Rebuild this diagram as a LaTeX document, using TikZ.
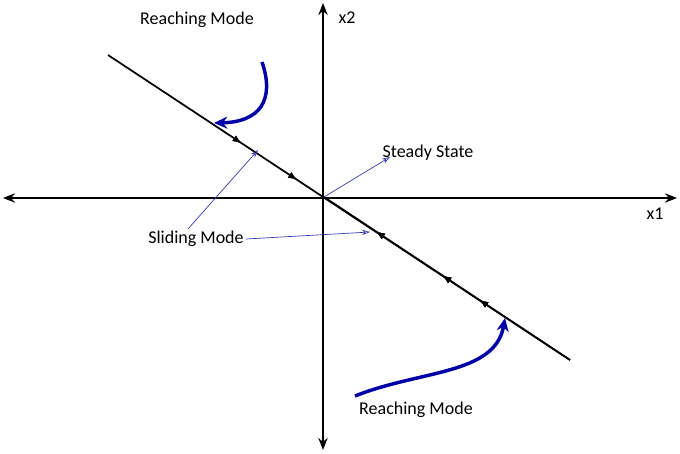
\documentclass[tikz,border=0pt]{standalone}
\usepackage{fontspec}
\setmainfont{Carlito}
\usetikzlibrary{arrows.meta,decorations.markings}
\begin{document}
\begin{tikzpicture}[x={(0.75pt,0)},y={(0,-0.75pt)},
  lbl/.style={font=\fontsize{13.5}{15}\selectfont,inner sep=0pt},
  axis/.style={line width=1.4pt,{Stealth[length=9pt,width=7pt]}-{Stealth[length=9pt,width=7pt]}},
  thinb/.style={draw=blue!60!black!80,line width=0.5pt,-{Stealth[length=6pt,width=4pt,open]}},
  reach/.style={draw=blue!65!black,line width=2.6pt,-{Stealth[length=10pt,width=9pt]}},
  fw/.style={decoration={markings,mark=at position #1 with {\arrow{Latex[length=7pt,width=5pt]}}},postaction=decorate}]
\useasboundingbox (0,0) rectangle (680,453);
\coordinate (L) at (3,198); \coordinate (R) at (677,198);
\coordinate (T) at (323,3); \coordinate (B) at (323,450);
\coordinate (S1) at (108,55); \coordinate (S2) at (570,360);
\coordinate (O) at (324,197);
\draw[axis] (L) -- (R);
\draw[axis] (T) -- (B);
\draw[line width=1.3pt,fw=0.29,fw=0.41] (S1) -- (S2);
\draw[line width=1.3pt,fw=0.37,fw=0.52,fw=0.79] (S2) -- (O);
\node[lbl] (x2) at (347,18) {x2};
\node[lbl] (x1) at (655,214) {x1};
\node[lbl] (rt) at (197,20) {Reaching Mode};
\node[lbl] (rb) at (416,410) {Reaching Mode};
\node[lbl] (ss) at (428,153) {Steady State};
\node[lbl] (sm) at (196,239) {Sliding Mode};
\coordinate (a1) at (258,150); \coordinate (a2) at (370,232);
\coordinate (a3) at (390,157); \coordinate (r1) at (214,123); \coordinate (r2) at (505,318);
\draw[thinb] (sm.north) ++(-8,-2) -- (a1);
\draw[thinb] (sm.east) ++(2,0) -- (a2);
\draw[thinb] (O) -- (a3);
\draw[reach] (262,62) .. controls (275,100) and (260,122) .. (r1);
\draw[reach] (355,396) .. controls (420,370) and (495,375) .. (r2);
\end{tikzpicture}
\end{document}
